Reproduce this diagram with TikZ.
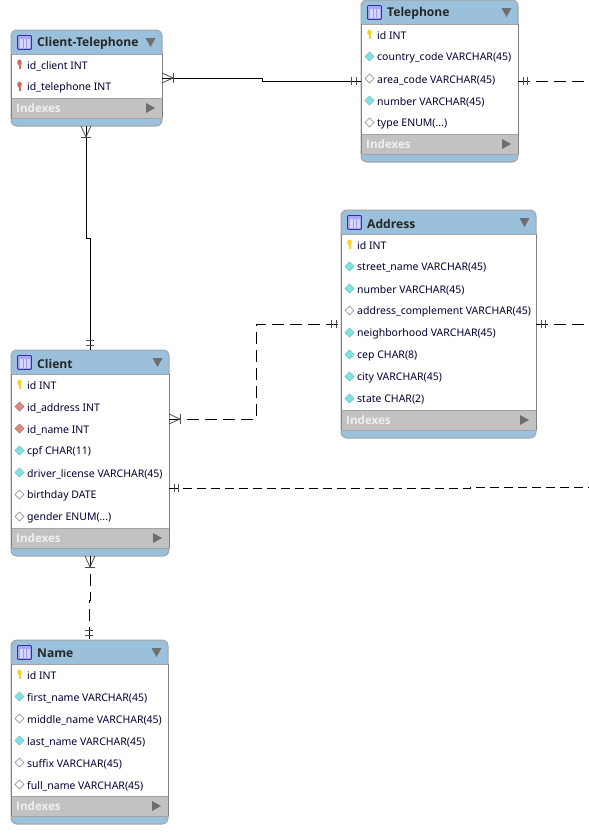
\documentclass[tikz,border=0pt]{standalone}
\usepackage{fontspec}
\setmainfont{Noto Sans}
\newfontfamily\erdbold{Open Sans}
\usetikzlibrary{calc}

\definecolor{erdblue}{HTML}{9BC0DB}
\definecolor{erdedge}{HTML}{A3A3A3}
\definecolor{erdgray}{HTML}{C2C2C2}
\definecolor{erdtri}{HTML}{6E6E6E}
\definecolor{erdcyan}{HTML}{7FE3E6}
\definecolor{erdred}{HTML}{E08A80}
\definecolor{erdkey}{HTML}{F3D52B}
\definecolor{erdfk}{HTML}{D9695F}

\tikzset{
  erdbox/.style={draw=erdedge, line width=1pt, fill=erdblue, rounded corners=6pt, inner sep=0pt, outer sep=0pt},
  erdtitle/.style={anchor=west, inner sep=0pt, font=\fontsize{12.1}{14}\erdbold\bfseries, text=black!85},
  erdrow/.style={anchor=west, inner sep=0pt, font=\fontsize{10.5}{12}\selectfont, text=black!80!blue},
  erdidx/.style={anchor=west, inner sep=0pt, font=\fontsize{11.6}{13}\erdbold\bfseries, text=white!94!black},
  relation/.style={line width=1pt, black},
  optional/.style={relation, dash pattern=on 12pt off 6pt},
  % column icons
  keyshape/.pic={
    \fill (0,-2) ellipse (2.3 and 3);
    \fill (-1,-2) rectangle (1,4.5);
  },
  icnk/.pic={\path[fill=erdkey] (0,0) pic {keyshape};},
  icnr/.pic={\path[fill=erdfk] (0,0) pic {keyshape};},
  icnc/.pic={\draw[erdcyan!85!black, fill=erdcyan, line width=.6pt] (-4.5,0) -- (0,-4.5) -- (4.5,0) -- (0,4.5) -- cycle;},
  icnw/.pic={\draw[gray, fill=white, line width=.6pt] (-4.5,0) -- (0,-4.5) -- (4.5,0) -- (0,4.5) -- cycle;},
  icns/.pic={\draw[erdred!80!black, fill=erdred, line width=.6pt] (-4.5,0) -- (0,-4.5) -- (4.5,0) -- (0,4.5) -- cycle;},
  % line ends, drawn pointing east from the table edge
  crowfoot/.pic={
    \draw[black!70, line width=.8pt] (0,-5) -- (11,0) -- (0,5);
    \draw[black!70, line width=1pt] (11,-5) -- (11,5);
  },
  twobars/.pic={
    \draw[black!70, line width=1pt] (5,-4) -- (5,4) (9.5,-4) -- (9.5,4);
  },
}

\newcommand{\enumdots}{...}
% #1 name, #2 left, #3 right, #4 top, #5 number of rows, #6 title, #7 rows
\newcommand{\erdtable}[7]{
  \pgfmathsetmacro{\erdh}{24+22*#5+28}
  \pgfmathsetmacro{\erdw}{#3-#2}
  \node[erdbox, minimum width=\erdw pt, minimum height=\erdh pt] (#1) at ({(#2+#3)/2},{#4+\erdh/2}) {};
  \fill[white] (#2+.5,#4+24) rectangle (#3-.5,{#4+24+22*#5});
  \fill[erdgray] (#2+.5,{#4+24+22*#5}) rectangle (#3-.5,{#4+44+22*#5});
  \draw[erdedge, line width=1pt] (#2+.5,#4+24) -- (#3-.5,#4+24);
  \draw[erdedge, line width=1pt] (#2+.5,{#4+24+22*#5}) -- (#3-.5,{#4+24+22*#5});
  \draw[erdedge, line width=1pt] (#2+.5,{#4+44+22*#5}) -- (#3-.5,{#4+44+22*#5});
  \draw[gray, line width=1pt] (#2,#4+24) -- (#2,{#4+44+22*#5}) (#3,#4+24) -- (#3,{#4+44+22*#5});
  % header
  \draw[blue!45!black!80, fill=blue!35!white, line width=.8pt, rounded corners=1pt] (#2+6.5,#4+5.5) rectangle (#2+20.5,#4+19.5);
  \fill[blue!15!white] (#2+9,#4+9) rectangle (#2+18.5,#4+18);
  \draw[blue!40!white, line width=.5pt] (#2+12,#4+9) -- (#2+12,#4+18) (#2+15,#4+9) -- (#2+15,#4+18);
  \node[erdtitle] (#1-title) at (#2+26,#4+13.5) {#6};
  \fill[erdtri] (#3-16.5,#4+8) -- (#3-6.5,#4+8) -- (#3-11.5,#4+17) -- cycle;
  % columns
  \foreach \icn/\txt [count=\i] in {#7} {
    \pic at (#2+8.5,{#4+24+22*\i-11.5}) {icn\icn};
    \node[erdrow] (#1-r\i) at (#2+16,{#4+24+22*\i-10}) {\txt};
  }
  % indexes
  \node[erdidx] (#1-idx) at (#2+5,{#4+34+22*#5}) {Indexes};
  \fill[erdtri] (#3-16,{#4+29+22*#5}) -- (#3-16,{#4+39+22*#5}) -- (#3-7,{#4+34+22*#5}) -- cycle;
}

\begin{document}
\begin{tikzpicture}[x=1pt, y=-1pt]
  \useasboundingbox (0,0) rectangle (589,836);

  % Tables
  \erdtable{clienttel}{11}{162}{30}{2}{Client-Telephone}{r/id\_client INT, r/id\_telephone INT}
  \erdtable{telephone}{361}{518}{0}{5}{Telephone}{k/id INT, c/country\_code VARCHAR(45), w/area\_code VARCHAR(45), c/number VARCHAR(45), w/type ENUM(\enumdots)}
  \erdtable{address}{341}{536}{210}{8}{Address}{k/id INT, c/street\_name VARCHAR(45), c/number VARCHAR(45), w/address\_complement VARCHAR(45), c/neighborhood VARCHAR(45), c/cep CHAR(8), c/city VARCHAR(45), c/state CHAR(2)}
  \erdtable{client}{11}{169}{350}{7}{Client}{k/id INT, s/id\_address INT, s/id\_name INT, c/cpf CHAR(11), c/driver\_license VARCHAR(45), w/birthday DATE, w/gender ENUM(\enumdots)}
  \erdtable{name}{11}{168}{640}{6}{Name}{k/id INT, c/first\_name VARCHAR(45), w/middle\_name VARCHAR(45), c/last\_name VARCHAR(45), w/suffix VARCHAR(45), w/full\_name VARCHAR(45)}

  % Free ends at the right margin
  \coordinate (telout) at (589,81);
  \coordinate (addrout) at (589,324);
  \coordinate (clientout) at (589,487);

  % Identifying relations
  \draw[relation] (clienttel.east) -- ++(100,0) -- ++(0,3) -- (telephone.west);
  \draw[relation] (clienttel.south -| 86,0) -- (86,238) -- (90,238) -- (client.north -| 90,0);

  % Non identifying relations
  \draw[optional] ([yshift=34pt]client.east) -- (256,419) -- (256,324) -- (address.west);
  \draw[optional] (address.east) -- (addrout);
  \draw[optional] (telephone.east) -- (telout);
  \draw[optional, dash pattern=on 9pt off 5pt] ([yshift=-35pt]client.east) -- (470,488) -- (470,487) -- (clientout);
  \draw[optional] (client.south -| 90,0) -- (90,600) -- (89,600) -- (name.north -| 89,0);

  % Line ends
  \pic at (clienttel.east) {crowfoot};
  \pic[rotate=-90] at (clienttel.south -| 86,0) {crowfoot};
  \pic[rotate=180] at (telephone.west) {twobars};
  \pic[rotate=90] at (client.north -| 90,0) {twobars};
  \pic at ([yshift=34pt]client.east) {crowfoot};
  \pic[rotate=180] at (address.west) {twobars};
  \pic at (address.east) {twobars};
  \pic at (telephone.east) {twobars};
  \pic at ([yshift=-35pt]client.east) {twobars};
  \pic[rotate=-90] at (client.south -| 90,0) {crowfoot};
  \pic[rotate=90] at (name.north -| 89,0) {twobars};
\end{tikzpicture}
\end{document}
